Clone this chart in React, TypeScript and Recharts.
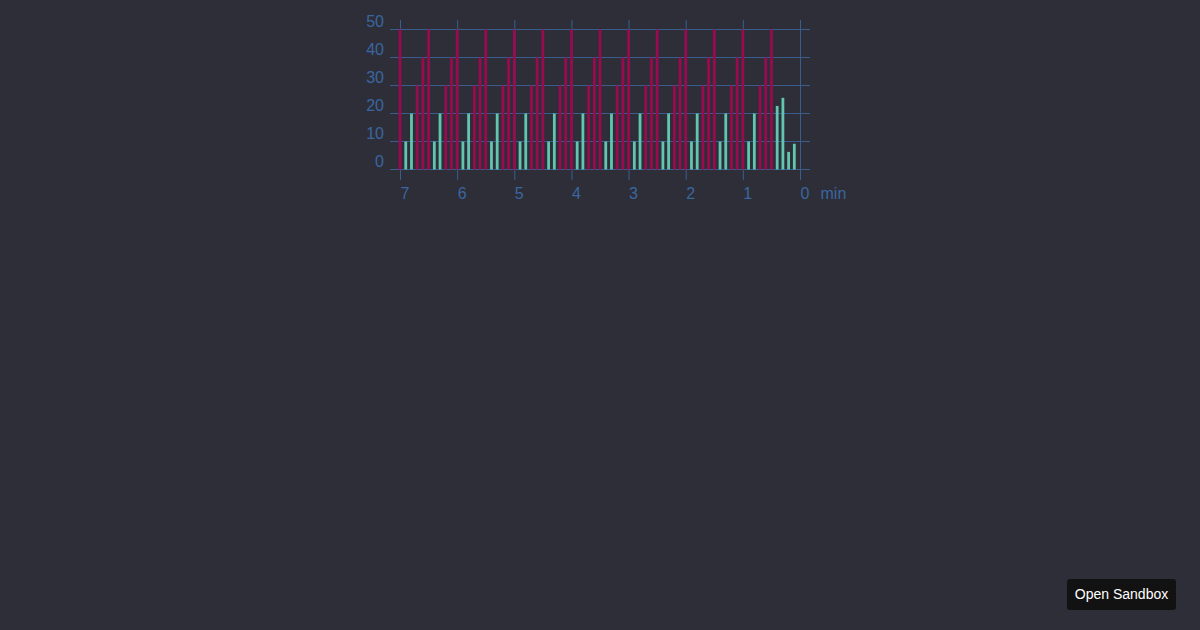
import { BarChart, Bar, XAxis, YAxis, CartesianGrid } from 'recharts'

// minutes ago, one sample every 6 s
const minutesAgo = [
  7.0, 6.9, 6.8, 6.7, 6.6, 6.5, 6.4, 6.3, 6.2, 6.1,
  6.0, 5.9, 5.8, 5.7, 5.6, 5.5, 5.4, 5.3, 5.2, 5.1,
  5.0, 4.9, 4.8, 4.7, 4.6, 4.5, 4.4, 4.3, 4.2, 4.1,
  4.0, 3.9, 3.8, 3.7, 3.6, 3.5, 3.4, 3.3, 3.2, 3.1,
  3.0, 2.9, 2.8, 2.7, 2.6, 2.5, 2.4, 2.3, 2.2, 2.1,
  2.0, 1.9, 1.8, 1.7, 1.6, 1.5, 1.4, 1.3, 1.2, 1.1,
  1.0, 0.9, 0.8, 0.7, 0.6, 0.5, 0.4, 0.3, 0.2, 0.1,
]

const highValues = [
  50, null, null, 30, 40, 50, null, null, 30, 40,
  50, null, null, 30, 40, 50, null, null, 30, 40,
  50, null, null, 30, 40, 50, null, null, 30, 40,
  50, null, null, 30, 40, 50, null, null, 30, 40,
  50, null, null, 30, 40, 50, null, null, 30, 40,
  50, null, null, 30, 40, 50, null, null, 30, 40,
  50, null, null, 30, 40, 50, null, null, null, null,
]

const lowValues = [
  null, 10, 20, null, null, null, 10, 20, null, null,
  null, 10, 20, null, null, null, 10, 20, null, null,
  null, 10, 20, null, null, null, 10, 20, null, null,
  null, 10, 20, null, null, null, 10, 20, null, null,
  null, 10, 20, null, null, null, 10, 20, null, null,
  null, 10, 20, null, null, null, 10, 20, null, null,
  null, 10, 20, null, null, null, 22.7, 25.6, 6.3, 9.2,
]

const xTicks = [7, 6, 5, 4, 3, 2, 1, 0]
const yTicks = [0, 10, 20, 30, 40, 50]

const data = minutesAgo.map((t, i) => ({ t, high: highValues[i], low: lowValues[i] }))

const FONT = "'Liberation Sans', Arial, sans-serif"
const BLUE_TEXT = '#3a66a0'
const GRID = '#3a5d8e'

function YTick({ x, y, payload }: any) {
  return (
    <text x={x - 6} y={y - 2.8} textAnchor="end" fill={BLUE_TEXT} fontSize={16} fontFamily={FONT}>
      {payload.value}
    </text>
  )
}

function XTick({ x, y, payload }: any) {
  return (
    <g>
      <text x={x} y={y + 19} textAnchor="start" fill={BLUE_TEXT} fontSize={16} fontFamily={FONT}>
        {payload.value}
      </text>
      {payload.value === 0 && (
        <text x={x + 20} y={y + 19} textAnchor="start" fill={BLUE_TEXT} fontSize={16} fontFamily={FONT}>
          min
        </text>
      )}
    </g>
  )
}

export default function App() {
  return (
    <div style={{ position: 'fixed', left: 0, top: 0, width: 1200, height: 630, background: '#2e2e38', overflow: 'hidden' }}>
      <BarChart
        width={1200}
        height={630}
        data={data}
        margin={{ top: 20, right: 390, left: 360, bottom: 420 }}
        barSize={2.8}
      >
        <CartesianGrid stroke={GRID} strokeWidth={1} syncWithTicks />
        <XAxis
          dataKey="t"
          type="number"
          domain={[-0.16625, 7.18375]}
          reversed
          ticks={xTicks}
          interval={0}
          allowDataOverflow
          axisLine={false}
          tickLine={false}
          tickSize={0}
          tickMargin={0}
          height={30}
          tick={<XTick />}
        />
        <YAxis
          type="number"
          domain={[-3.75, 53.393]}
          ticks={yTicks}
          interval={0}
          allowDataOverflow
          axisLine={false}
          tickLine={false}
          tickSize={0}
          tickMargin={0}
          width={30}
          tick={<YTick />}
        />
        <Bar dataKey="high" stackId="s" fill="#990a50" isAnimationActive={false} />
        <Bar dataKey="low" stackId="s" fill="#62c5b0" isAnimationActive={false} />
      </BarChart>
      <div
        style={{
          position: 'absolute',
          left: 1067,
          top: 579,
          width: 109,
          height: 31,
          background: '#121212',
          borderRadius: 3,
          color: '#fff',
          fontFamily: FONT,
          fontSize: 14,
          lineHeight: '31px',
          textAlign: 'center',
        }}
      >
        Open Sandbox
      </div>
    </div>
  )
}
